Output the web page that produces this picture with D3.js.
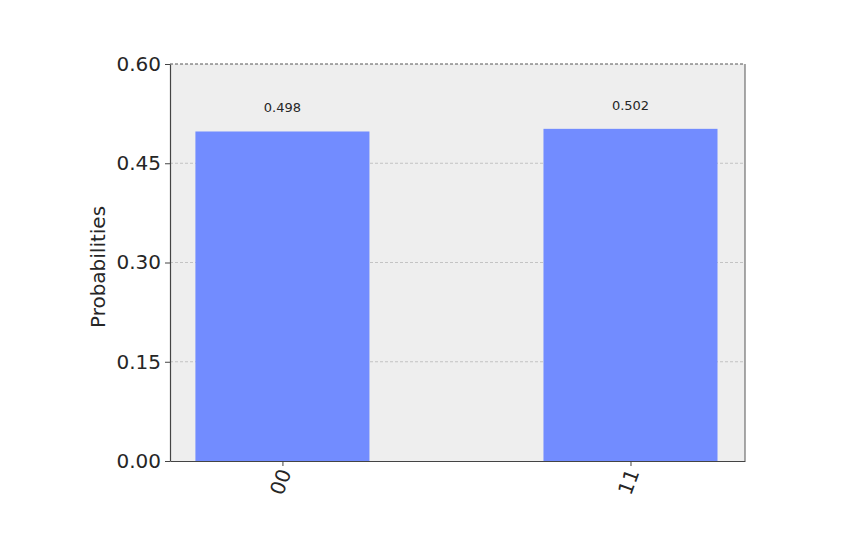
<!DOCTYPE html>
<html>
<head>
<meta charset="utf-8">
<script src="https://cdn.jsdelivr.net/npm/d3@7"></script>
<style>
  body { margin: 0; background: #fff; }
  svg text { font-family: "DejaVu Sans", sans-serif; fill: #262626; }
</style>
</head>
<body>
<svg id="svg" width="848" height="541"></svg>
<script>
// data
var states = ["00", "11"]
var probs = [0.498, 0.502]
var yTicks = [0, 0.15, 0.30, 0.45, 0.60]

var svg = d3.select("svg")
var plotL = 170, plotR = 745, plotT = 64, plotB = 461

var x = d3.scaleLinear().domain([-0.323, 1.329]).range([plotL, plotR])
var y = d3.scaleLinear().domain([0, 0.6]).range([plotB, plotT])
var barW = x(0.5) - x(0)

// plot background
svg.append("rect")
  .attr("x", plotL).attr("y", plotT)
  .attr("width", plotR - plotL).attr("height", plotB - plotT)
  .attr("fill", "#eeeeee")

// grid lines
svg.append("g").selectAll("line")
  .data(yTicks.slice(1, 4))
  .enter().append("line")
  .attr("x1", plotL).attr("x2", plotR)
  .attr("y1", function(d) { return y(d) }).attr("y2", function(d) { return y(d) })
  .attr("stroke", "#b8b8b8").attr("stroke-width", 0.8)
  .attr("stroke-dasharray", "3,2")

// bars
svg.append("g").selectAll("rect")
  .data(probs)
  .enter().append("rect")
  .attr("x", function(d, i) { return x(i) - barW / 2 })
  .attr("y", function(d) { return y(d) })
  .attr("width", barW)
  .attr("height", function(d) { return plotB - y(d) })
  .attr("fill", "#728cff")

// value labels
svg.append("g").selectAll("text")
  .data(probs)
  .enter().append("text")
  .attr("x", function(d, i) { return x(i) })
  .attr("y", function(d) { return y(d) - 19 })
  .attr("text-anchor", "middle")
  .style("font-size", "13px")
  .text(function(d) { return d.toFixed(3) })

// spines
svg.append("line").attr("x1", plotR).attr("x2", plotR).attr("y1", plotT).attr("y2", plotB)
  .attr("stroke", "#555").attr("stroke-width", 1)
svg.append("line").attr("x1", plotL).attr("x2", plotR).attr("y1", plotT).attr("y2", plotT)
  .attr("stroke", "#555").attr("stroke-width", 1).attr("stroke-dasharray", "3,2")

// y axis
var yAxis = svg.append("g")
  .attr("transform", "translate(" + plotL + ",0)")
  .call(d3.axisLeft(y).tickValues(yTicks).tickFormat(d3.format(".2f")).tickSize(5).tickPadding(4).tickSizeOuter(0))
yAxis.select(".domain").attr("stroke", "#444").attr("stroke-width", 1.2)
yAxis.selectAll(".tick line").attr("stroke", "#444")
yAxis.selectAll("text").style("font-size", "20px").attr("fill", "#262626")

// x axis
var xAxis = svg.append("g")
  .attr("transform", "translate(0," + plotB + ")")
  .call(d3.axisBottom(x).tickValues([0, 1]).tickFormat(function(d) { return states[d] }).tickSize(5).tickSizeOuter(0))
xAxis.select(".domain").attr("stroke", "#444").attr("stroke-width", 1.2)
xAxis.selectAll(".tick line").attr("stroke", "#444")
xAxis.selectAll("text")
  .style("font-size", "20px")
  .attr("fill", "#262626")
  .attr("text-anchor", "end")
  .attr("dy", "0.35em")
  .attr("transform", "translate(2,9) rotate(-70)")
  .attr("y", 0).attr("x", 0)

// y label
svg.append("text")
  .attr("transform", "translate(105,267) rotate(-90)")
  .attr("text-anchor", "middle")
  .style("font-size", "20px")
  .text("Probabilities")
</script>
</body>
</html>
